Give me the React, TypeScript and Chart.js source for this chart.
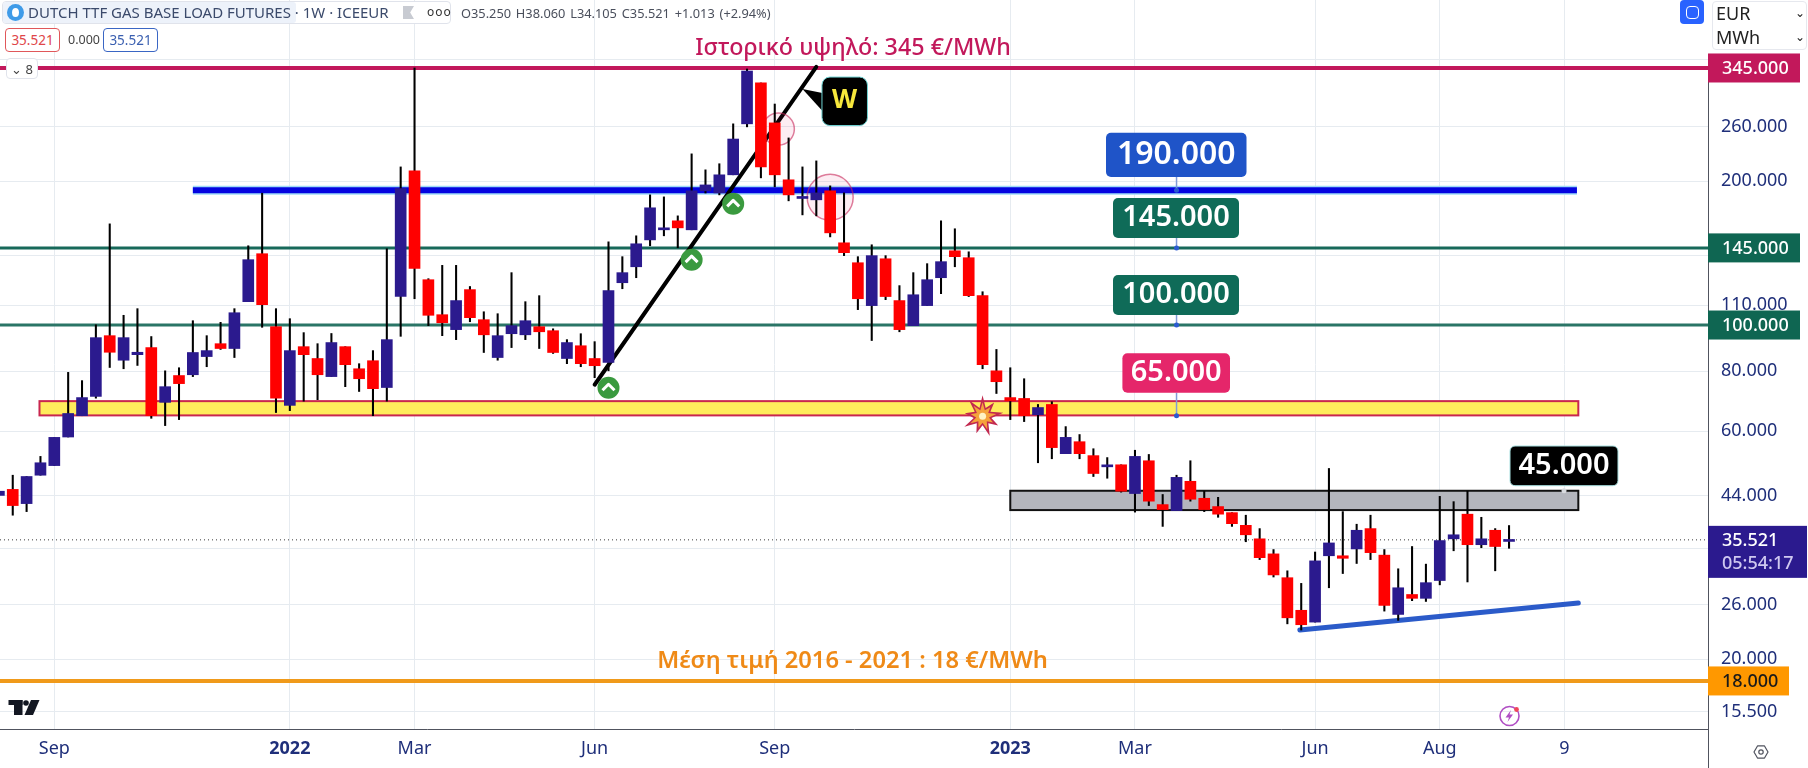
import { useEffect, useRef } from "react"
import { Chart, registerables } from "chart.js"

Chart.register(...registerables)

const FONT = '"Noto Sans", sans-serif'
const AXIS_TEXT = "#1f2f7a"
const UP = "#2b1a8e"
const DOWN = "#ff0000"

// weekly candles, left to right, first one is cut by the chart edge
const opens = [
  44.0, 45.3, 42.3, 48.5, 50.8, 58.3, 64.6, 70.9, 95.0, 84.4, 86.7, 89.7, 68.9, 78.4, 78.7, 85.9, 91.4, 89.3, 111.9, 141.0,
  99.2, 67.9, 90.1, 85.1, 78.0, 90.1, 81.0, 84.2, 74.0, 114.8, 210.1, 124.4, 105.1, 97.8, 118.6, 102.6, 85.5, 95.9, 95.4, 99.2,
  97.3, 85.1, 90.5, 85.1, 83.5, 122.6, 132.4, 150.7, 158.2, 165.2, 158.2, 190.9, 189.0, 206.2, 263.6, 321.0, 264.8, 201.3, 184.0, 182.8,
  190.9, 148.6, 135.0, 109.8, 137.6, 112.5, 99.7, 109.8, 125.6, 143.0, 138.3, 115.2, 80.2, 70.5, 70.2, 64.9, 68.2, 53.8, 57.0, 53.3,
  50.5, 51.0, 44.4, 52.0, 42.1, 40.9, 47.1, 43.4, 41.7, 40.5, 38.1, 35.7, 33.2, 29.6, 25.3, 23.9, 32.9, 32.9, 34.0, 37.5,
  33.0, 24.8, 27.3, 26.8, 29.2, 35.7, 40.2, 34.7, 37.2, 35.25,
]
const highs = [
  44.9, 48.5, 48.2, 53.1, 58.2, 79.6, 76.5, 100.1, 162.8, 104.8, 108.2, 94.6, 80.2, 81.4, 102.1, 95.0, 101.3, 108.2, 146.5, 188.7,
  108.2, 103.1, 96.4, 91.4, 96.0, 90.1, 83.0, 88.4, 144.4, 214.2, 345.0, 125.0, 133.3, 133.3, 120.4, 106.6, 105.6, 128.7, 111.9, 115.2,
  98.2, 93.2, 95.9, 92.3, 149.3, 139.0, 153.7, 187.2, 185.4, 169.2, 228.1, 211.2, 217.5, 263.6, 343.3, 321.0, 290.0, 246.3, 214.2, 220.5,
  195.5, 189.0, 139.0, 147.2, 139.7, 120.9, 128.7, 134.4, 165.2, 159.0, 142.3, 117.4, 88.9, 81.4, 77.2, 68.2, 69.1, 61.3, 59.0, 55.1,
  52.8, 51.0, 54.7, 53.6, 44.2, 48.5, 52.0, 44.9, 43.6, 40.5, 40.0, 37.5, 33.9, 30.6, 28.8, 33.5, 50.1, 40.7, 38.3, 40.0,
  33.9, 30.9, 34.4, 31.6, 43.8, 42.7, 44.9, 39.6, 37.5, 38.06,
]
const lows = [
  44.0, 40.0, 40.7, 48.5, 50.8, 58.3, 64.6, 70.3, 81.5, 81.0, 82.3, 63.8, 61.6, 63.4, 78.0, 81.8, 88.9, 85.5, 111.9, 98.9,
  65.6, 66.2, 69.3, 69.8, 78.0, 74.3, 72.6, 64.6, 69.3, 94.7, 113.5, 99.7, 95.0, 93.2, 101.6, 87.6, 84.4, 89.7, 93.2, 89.3,
  87.2, 83.0, 81.8, 77.6, 80.2, 119.1, 125.6, 146.5, 153.7, 145.1, 158.2, 188.9, 187.2, 206.2, 259.8, 203.2, 194.6, 181.9, 170.0, 169.2,
  152.9, 139.7, 107.7, 92.8, 113.0, 96.8, 99.7, 109.8, 116.3, 132.4, 114.7, 81.0, 71.9, 63.4, 62.8, 51.5, 52.5, 53.8, 52.5, 48.2,
  47.8, 44.7, 40.6, 41.9, 37.9, 40.9, 42.8, 40.7, 39.6, 37.9, 35.2, 32.3, 29.7, 23.7, 23.0, 23.9, 28.2, 30.2, 31.7, 32.3,
  25.2, 24.1, 26.5, 26.4, 28.6, 33.7, 29.0, 34.2, 30.6, 34.105,
]
const closes = [
  44.9, 41.9, 48.2, 51.5, 58.2, 65.3, 70.5, 94.1, 87.7, 94.1, 87.7, 64.6, 74.3, 75.4, 87.6, 88.4, 89.3, 106.1, 137.0, 110.3,
  70.3, 88.4, 86.7, 78.7, 91.9, 82.6, 77.2, 73.6, 93.2, 193.0, 131.4, 104.8, 101.1, 112.5, 103.6, 95.4, 95.0, 99.7, 102.1, 96.8,
  87.6, 91.9, 83.0, 82.2, 118.0, 128.7, 147.9, 175.9, 159.7, 159.7, 190.9, 196.4, 206.2, 245.0, 340.0, 214.2, 206.2, 187.2, 185.4, 189.0,
  155.9, 141.7, 113.5, 139.7, 114.7, 97.8, 115.7, 124.4, 135.7, 139.0, 115.2, 82.6, 76.1, 69.4, 64.6, 67.2, 55.4, 58.2, 53.8, 48.9,
  50.8, 44.9, 53.1, 42.8, 41.1, 48.0, 43.2, 41.1, 40.2, 38.4, 36.4, 32.6, 30.0, 24.4, 23.6, 32.1, 35.0, 32.5, 37.2, 33.4,
  25.9, 28.2, 26.8, 28.9, 35.4, 36.4, 34.7, 35.7, 34.4, 35.521,
]

const xTickWeeks = [4, 21, 30, 43, 56, 73, 82, 95, 104, 113]
const xTickLabels = ["Sep", "2022", "Mar", "Jun", "Sep", "2023", "Mar", "Jun", "Aug", "9"]
const yTicks = [360, 260, 200, 140, 110, 80, 60, 44, 34, 26, 20, 15.5]
// these grid lines sit behind a badge, so their labels do not show
const yTicksUnlabelled = [360, 140, 34]

const levelPrices = [345, 145, 100, 18]
const levelColors = ["#c2185b", "#17695a", "#2a7566", "#f09a1a"]
const levelWidths = [4, 3, 3, 4]

const lastPrice = 35.521
const xMin = 0.08
const xMax = 123.36
const yMin = 14.28
const yMax = 478.7

const candles = opens.map((open, i) => ({ x: i, open, high: highs[i], low: lows[i], close: closes[i] }))

function roundRect(ctx: CanvasRenderingContext2D, x: number, y: number, w: number, h: number, r: number) {
  ctx.beginPath()
  ctx.roundRect(x, y, w, h, r)
}

function burst(ctx: CanvasRenderingContext2D, cx: number, cy: number, outer: number, inner: number, fill: string) {
  const spikes = 9
  ctx.beginPath()
  for (let i = 0; i < spikes * 2; i++) {
    const r = i % 2 === 0 ? outer * (i % 4 === 0 ? 1 : 0.86) : inner
    const a = -Math.PI / 2 + (i * Math.PI) / spikes
    ctx.lineTo(cx + r * Math.cos(a), cy + r * Math.sin(a))
  }
  ctx.closePath()
  ctx.fillStyle = fill
  ctx.fill()
}

// value badges sitting on the price axis
const axisBadges = [
  { text: "345.000", value: 345, color: "#c2185b", ink: "#ffffff", width: 92 },
  { text: "145.000", value: 145, color: "#0f6652", ink: "#ffffff", width: 92 },
  { text: "100.000", value: 100, color: "#0f6652", ink: "#ffffff", width: 92 },
  { text: "18.000", value: 18, color: "#ff9800", ink: "#1a1a1a", width: 81 },
]

// the big labels with a stem down to their level
const stemLabels = [
  { text: "190.000", value: 191.5, color: "#1f54c8", left: 1106, right: 1246.5, top: 132.7, bottom: 177, size: 32 },
  { text: "145.000", value: 145, color: "#0f6b58", left: 1113, right: 1239, top: 198, bottom: 238, size: 29 },
  { text: "100.000", value: 100, color: "#0f6b58", left: 1113, right: 1239, top: 275, bottom: 315, size: 29 },
  { text: "65.000", value: 64.6, color: "#e5266a", left: 1122.4, right: 1230, top: 353.3, bottom: 392.7, size: 29 },
]

const markers = [
  { x: 44, y: 73.9 },
  { x: 50, y: 137 },
  { x: 53, y: 179.3 },
]
const circles = [
  { x: 56.26, y: 257, r: 16 },
  { x: 60, y: 185.1, r: 23 },
]

const overlayPlugin = {
  id: "overlay",
  beforeDatasetsDraw(chart: any) {
    const { ctx, scales } = chart
    const { x, y } = scales
    const box = (x0: number, x1: number, top: number, bottom: number, fill: string, stroke: string) => {
      const l = x.getPixelForValue(x0)
      const r = x.getPixelForValue(x1)
      const t = y.getPixelForValue(top)
      const b = y.getPixelForValue(bottom)
      ctx.fillStyle = fill
      ctx.fillRect(l, t, r - l, b - t)
      ctx.strokeStyle = stroke
      ctx.lineWidth = 2
      ctx.strokeRect(l, t, r - l, b - t)
    }
    box(2.93, 114, 69.3, 64.7, "#ffec5c", "#c9264f")
    box(73, 114, 45, 41, "#b4b6bd", "#111111")
  },
  afterDatasetsDraw(chart: any) {
    const { ctx, scales } = chart
    const { x, y } = scales
    ctx.save()

    // chevrons inside the green markers
    ctx.strokeStyle = "#ffffff"
    ctx.lineWidth = 3
    ctx.lineJoin = "round"
    markers.forEach((m) => {
      const px = x.getPixelForValue(m.x)
      const py = y.getPixelForValue(m.y)
      ctx.beginPath()
      ctx.moveTo(px - 6, py + 2.5)
      ctx.lineTo(px, py - 3.5)
      ctx.lineTo(px + 6, py + 2.5)
      ctx.stroke()
    })

    // explosion sticker on the yellow zone
    const bx = x.getPixelForValue(71)
    const by = y.getPixelForValue(64.4)
    burst(ctx, bx, by, 21, 9, "#c2294f")
    burst(ctx, bx, by, 14, 6.5, "#f5a33b")
    ctx.fillStyle = "#fff3c4"
    ctx.beginPath()
    ctx.arc(bx, by, 3.5, 0, Math.PI * 2)
    ctx.fill()

    // W callout pointing at the trend line
    const tipX = x.getPixelForValue(58)
    const tipY = y.getPixelForValue(311.7)
    ctx.fillStyle = "#000000"
    ctx.strokeStyle = "#6fd4d4"
    ctx.lineWidth = 1
    ctx.beginPath()
    ctx.moveTo(tipX, tipY)
    ctx.lineTo(tipX + 20, tipY + 4)
    ctx.lineTo(tipX + 20, tipY + 22)
    ctx.closePath()
    ctx.fill()
    roundRect(ctx, tipX + 19.5, tipY - 12, 45.5, 48.5, 8)
    ctx.fill()
    ctx.stroke()
    ctx.fillStyle = "#f7e83c"
    ctx.font = `bold 26px ${FONT}`
    ctx.textAlign = "center"
    ctx.textBaseline = "middle"
    ctx.fillText("W", tipX + 42, tipY + 12)

    // free text
    ctx.fillStyle = "#c2185b"
    ctx.font = `500 23.3px ${FONT}`
    ctx.fillText("Ιστορικό υψηλό: 345 €/MWh", 853, 48)
    ctx.fillStyle = "#ef8a17"
    ctx.font = `600 23.7px ${FONT}`
    ctx.fillText("Μέση τιμή 2016 - 2021 : 18 €/MWh", 852.5, 661)

    // stem labels
    const stemX = x.getPixelForValue(85)
    stemLabels.forEach((l) => {
      const level = y.getPixelForValue(l.value)
      ctx.strokeStyle = "#7f9bd8"
      ctx.lineWidth = 1.5
      ctx.beginPath()
      ctx.moveTo(stemX, l.bottom)
      ctx.lineTo(stemX, level)
      ctx.stroke()
      ctx.fillStyle = "#2a5bd0"
      ctx.beginPath()
      ctx.arc(stemX, level, 2.5, 0, Math.PI * 2)
      ctx.fill()
      ctx.fillStyle = l.color
      roundRect(ctx, l.left, l.top, l.right - l.left, l.bottom - l.top, 5)
      ctx.fill()
      ctx.fillStyle = "#ffffff"
      ctx.font = `600 ${l.size}px ${FONT}`
      ctx.fillText(l.text, (l.left + l.right) / 2, (l.top + l.bottom) / 2)
    })

    // 45.000 label on the grey zone
    ctx.fillStyle = "#000000"
    ctx.strokeStyle = "#a8e0e0"
    ctx.lineWidth = 1
    roundRect(ctx, 1510, 446, 108, 39.7, 5)
    ctx.fill()
    ctx.stroke()
    ctx.fillStyle = "#ffffff"
    ctx.font = `600 29px ${FONT}`
    ctx.fillText("45.000", 1564, 466)
    ctx.fillStyle = "#d8dade"
    ctx.beginPath()
    ctx.arc(1564, y.getPixelForValue(45), 2.5, 0, Math.PI * 2)
    ctx.fill()

    // price axis line and value badges
    ctx.strokeStyle = "#50535e"
    ctx.lineWidth = 1
    ctx.beginPath()
    ctx.moveTo(1708.5, 54)
    ctx.lineTo(1708.5, 768)
    ctx.stroke()
    ctx.font = `500 18px ${FONT}`
    ctx.textAlign = "left"
    axisBadges.forEach((b) => {
      const py = y.getPixelForValue(b.value)
      ctx.fillStyle = b.color
      ctx.fillRect(1708, py - 14.5, b.width, 29)
      ctx.fillStyle = b.ink
      ctx.fillText(b.text, 1722, py + 1)
    })
    const lastY = y.getPixelForValue(lastPrice)
    ctx.fillStyle = UP
    ctx.fillRect(1708, lastY - 14, 99, 52)
    ctx.fillStyle = "#ffffff"
    ctx.fillText("35.521", 1722, lastY + 1)
    ctx.fillStyle = "#cfc8f0"
    ctx.fillText("05:54:17", 1722, lastY + 24)

    // TradingView mark, bottom left
    ctx.fillStyle = "#131722"
    ctx.fillRect(8.5, 700, 14, 5)
    ctx.fillRect(14, 700, 8.5, 15)
    ctx.beginPath()
    ctx.arc(26, 703, 2.8, 0, Math.PI * 2)
    ctx.fill()
    ctx.beginPath()
    ctx.moveTo(31, 700)
    ctx.lineTo(39.5, 700)
    ctx.lineTo(33, 715)
    ctx.lineTo(24.5, 715)
    ctx.closePath()
    ctx.fill()

    // purple lightning badge near the last candle
    ctx.strokeStyle = "#b04ec4"
    ctx.lineWidth = 1.6
    ctx.beginPath()
    ctx.arc(1509.5, 716, 9.5, 0, Math.PI * 2)
    ctx.stroke()
    ctx.fillStyle = "#b04ec4"
    ctx.beginPath()
    ctx.moveTo(1511, 710)
    ctx.lineTo(1505.5, 717.5)
    ctx.lineTo(1509, 717.5)
    ctx.lineTo(1507.5, 722)
    ctx.lineTo(1513, 714.5)
    ctx.lineTo(1509.5, 714.5)
    ctx.closePath()
    ctx.fill()
    ctx.fillStyle = "#f0475a"
    ctx.beginPath()
    ctx.arc(1516.5, 709.5, 2.4, 0, Math.PI * 2)
    ctx.fill()

    // settings hexagon, bottom right
    ctx.strokeStyle = "#50535e"
    ctx.lineWidth = 1.2
    ctx.beginPath()
    for (let i = 0; i < 6; i++) {
      const a = (i * Math.PI) / 3
      ctx.lineTo(1761 + 7 * Math.cos(a), 752 + 7 * Math.sin(a))
    }
    ctx.closePath()
    ctx.stroke()
    ctx.beginPath()
    ctx.arc(1761, 752, 2.2, 0, Math.PI * 2)
    ctx.stroke()

    ctx.restore()
  },
}

// the scales would otherwise push the plot area in by half a label
function noPadding(scale: any) {
  scale.paddingTop = 0
  scale.paddingBottom = 0
  scale.paddingLeft = 0
  scale.paddingRight = 0
}

function ChartCanvas() {
  const canvasRef = useRef<HTMLCanvasElement>(null)

  useEffect(() => {
    if (!canvasRef.current) return
    const lineStyle = { type: "line" as const, pointRadius: 0, fill: false, tension: 0 }

    const chart = new Chart(canvasRef.current, {
      type: "bar",
      data: {
        datasets: [
          {
            ...lineStyle,
            data: [{ x: xMin, y: lastPrice }, { x: xMax, y: lastPrice }],
            borderColor: "#3a3a3a",
            borderWidth: 1,
            borderDash: [1, 3],
            order: 8,
          },
          ...levelPrices.map((price, i) => ({
            ...lineStyle,
            data: [{ x: xMin, y: price }, { x: xMax, y: price }],
            borderColor: levelColors[i],
            borderWidth: levelWidths[i],
            order: 7,
          })),
          {
            ...lineStyle,
            data: [{ x: 14, y: 191.5 }, { x: 113.9, y: 191.5 }],
            borderColor: "#9fdcf7",
            borderWidth: 9,
            order: 7,
          },
          {
            ...lineStyle,
            data: [{ x: 14, y: 191.5 }, { x: 113.9, y: 191.5 }],
            borderColor: "#0404e0",
            borderWidth: 6,
            order: 6,
          },
          {
            ...lineStyle,
            data: [{ x: 43, y: 75 }, { x: 59, y: 346.8 }],
            borderColor: "#000000",
            borderWidth: 4,
            borderCapStyle: "round",
            order: 5,
          },
          {
            ...lineStyle,
            data: [{ x: 93.9, y: 23 }, { x: 114, y: 26.2 }],
            borderColor: "#2b5bc9",
            borderWidth: 5,
            borderCapStyle: "round",
            order: 5,
          },
          {
            type: "scatter",
            data: circles.map((c) => ({ x: c.x, y: c.y })),
            pointRadius: circles.map((c) => c.r),
            pointBackgroundColor: "rgba(233, 30, 99, 0.08)",
            pointBorderColor: "rgba(200, 40, 90, 0.6)",
            pointBorderWidth: 1.5,
            order: 4,
          },
          {
            data: candles.map((c) => ({ x: c.x, y: [c.low, c.high] })),
            backgroundColor: "#000000",
            barThickness: 1.4,
            grouped: false,
            order: 3,
          },
          {
            data: candles.map((c) => ({ x: c.x, y: [c.open, c.close] })),
            backgroundColor: candles.map((c) => (c.close >= c.open ? UP : DOWN)),
            barThickness: 11,
            minBarLength: 2,
            grouped: false,
            order: 2,
          },
          {
            type: "scatter",
            data: markers,
            pointRadius: 11,
            pointBackgroundColor: "#3a9a3f",
            pointBorderWidth: 0,
            order: 1,
          },
        ] as any,
      },
      options: {
        responsive: false,
        animation: false,
        devicePixelRatio: 1,
        layout: { padding: 0, autoPadding: false },
        plugins: { legend: { display: false }, tooltip: { enabled: false } },
        scales: {
          x: {
            type: "linear",
            min: xMin,
            max: xMax,
            offset: false,
            grid: { color: "#e6ebf0", offset: false, drawTicks: false },
            border: { display: true, color: "#50535e" },
            afterFit: (scale: any) => {
              scale.height = 39
              noPadding(scale)
            },
            afterBuildTicks: (scale: any) => {
              scale.ticks = xTickWeeks.map((value) => ({ value }))
            },
            ticks: {
              autoSkip: false,
              maxRotation: 0,
              padding: 9,
              color: AXIS_TEXT,
              font: (ctx: any) => ({
                family: FONT,
                size: 18,
                weight: ctx.tick && String(ctx.tick.label).startsWith("20") ? "bold" : "normal",
              }),
              callback: (value: any) => xTickLabels[xTickWeeks.indexOf(Number(value))],
            },
          },
          y: {
            type: "logarithmic",
            position: "right",
            min: yMin,
            max: yMax,
            grid: { color: "#e6ebf0", drawTicks: false },
            border: { display: false },
            afterFit: (scale: any) => {
              scale.width = 100
              noPadding(scale)
            },
            afterBuildTicks: (scale: any) => {
              scale.ticks = yTicks.map((value) => ({ value }))
            },
            ticks: {
              autoSkip: false,
              padding: 13,
              color: AXIS_TEXT,
              font: { family: FONT, size: 18 },
              callback: (value: any) => (yTicksUnlabelled.includes(Number(value)) ? "" : Number(value).toFixed(3)),
            },
          },
        },
      },
      plugins: [overlayPlugin],
    })

    return () => {
      chart.destroy()
    }
  }, [])

  return <canvas ref={canvasRef} width={1808} height={768} style={{ display: "block" }} />
}

const boxStyle = {
  position: "absolute" as const,
  boxSizing: "border-box" as const,
  display: "flex",
  alignItems: "center",
  justifyContent: "center",
  background: "#ffffff",
  borderRadius: 4,
}

export default function App() {
  return (
    <div
      style={{
        position: "fixed",
        left: 0,
        top: 0,
        width: 1808,
        height: 768,
        background: "#ffffff",
        overflow: "hidden",
        fontFamily: FONT,
      }}
    >
      <ChartCanvas />

      {/* legend header */}
      <div style={{ ...boxStyle, left: 2, top: 1, width: 449, height: 23, border: "1px solid #e0e3eb" }} />
      <div style={{ ...boxStyle, left: 3, top: 2, width: 293, height: 21, background: "#edf2fa", borderRadius: 3 }} />
      <div
        style={{
          position: "absolute",
          left: 7,
          top: 4,
          width: 17,
          height: 17,
          borderRadius: "50%",
          background: "#3f9be8",
        }}
      >
        <div
          style={{
            position: "absolute",
            left: 5,
            top: 4,
            width: 7,
            height: 9,
            borderRadius: "50%",
            background: "#ffffff",
          }}
        />
      </div>
      <span
        style={{
          position: "absolute",
          left: 28,
          top: 2,
          fontSize: 15,
          lineHeight: "21px",
          color: "#3b4a6b",
          whiteSpace: "nowrap",
        }}
      >
        DUTCH TTF GAS BASE LOAD FUTURES · 1W · ICEEUR
      </span>
      <div
        style={{
          position: "absolute",
          left: 403,
          top: 6,
          width: 11,
          height: 13,
          background: "#c8cbd2",
          clipPath: "polygon(0 0, 100% 0, 65% 50%, 100% 100%, 0 100%)",
        }}
      />
      <span style={{ position: "absolute", left: 427, top: 2, fontSize: 12, lineHeight: "20px", color: "#333", letterSpacing: 1 }}>
        ooo
      </span>
      <span
        style={{
          position: "absolute",
          left: 461,
          top: 3,
          fontSize: 12.8,
          lineHeight: "20px",
          color: "#4a4f5c",
          whiteSpace: "nowrap",
          wordSpacing: 1.5,
        }}
      >
        O35.250 H38.060 L34.105 C35.521 +1.013 (+2.94%)
      </span>

      <div style={{ ...boxStyle, left: 5, top: 28, width: 55, height: 24, border: "1px solid #e0575a", color: "#e0464a", fontSize: 13.5 }}>
        35.521
      </div>
      <span style={{ position: "absolute", left: 68, top: 30, fontSize: 12.5, lineHeight: "20px", color: "#444" }}>0.000</span>
      <div style={{ ...boxStyle, left: 103, top: 28, width: 55, height: 24, border: "1px solid #3a66c4", color: "#3a5fb0", fontSize: 13.5 }}>
        35.521
      </div>
      <div style={{ ...boxStyle, left: 6, top: 58, width: 32, height: 21, border: "1px solid #e0e3eb", color: "#444", fontSize: 13 }}>
        ⌄&nbsp;8
      </div>

      {/* currency and unit selector */}
      <div style={{ ...boxStyle, left: 1680, top: 0, width: 24, height: 24, background: "#2962ff", borderRadius: 4 }}>
        <div style={{ width: 11, height: 11, border: "1.5px solid #ffffff", borderRadius: 4 }} />
      </div>
      <div style={{ ...boxStyle, left: 1712, top: 1, width: 95, height: 49, border: "1px solid #e6e8ee" }} />
      <span style={{ position: "absolute", left: 1716, top: 1, fontSize: 18, lineHeight: "24px", color: "#222" }}>EUR</span>
      <span style={{ position: "absolute", left: 1716, top: 25, fontSize: 18, lineHeight: "24px", color: "#222" }}>MWh</span>
      <span style={{ position: "absolute", left: 1795, top: 1, fontSize: 12, lineHeight: "24px", color: "#222" }}>⌄</span>
      <span style={{ position: "absolute", left: 1795, top: 25, fontSize: 12, lineHeight: "24px", color: "#222" }}>⌄</span>
    </div>
  )
}
